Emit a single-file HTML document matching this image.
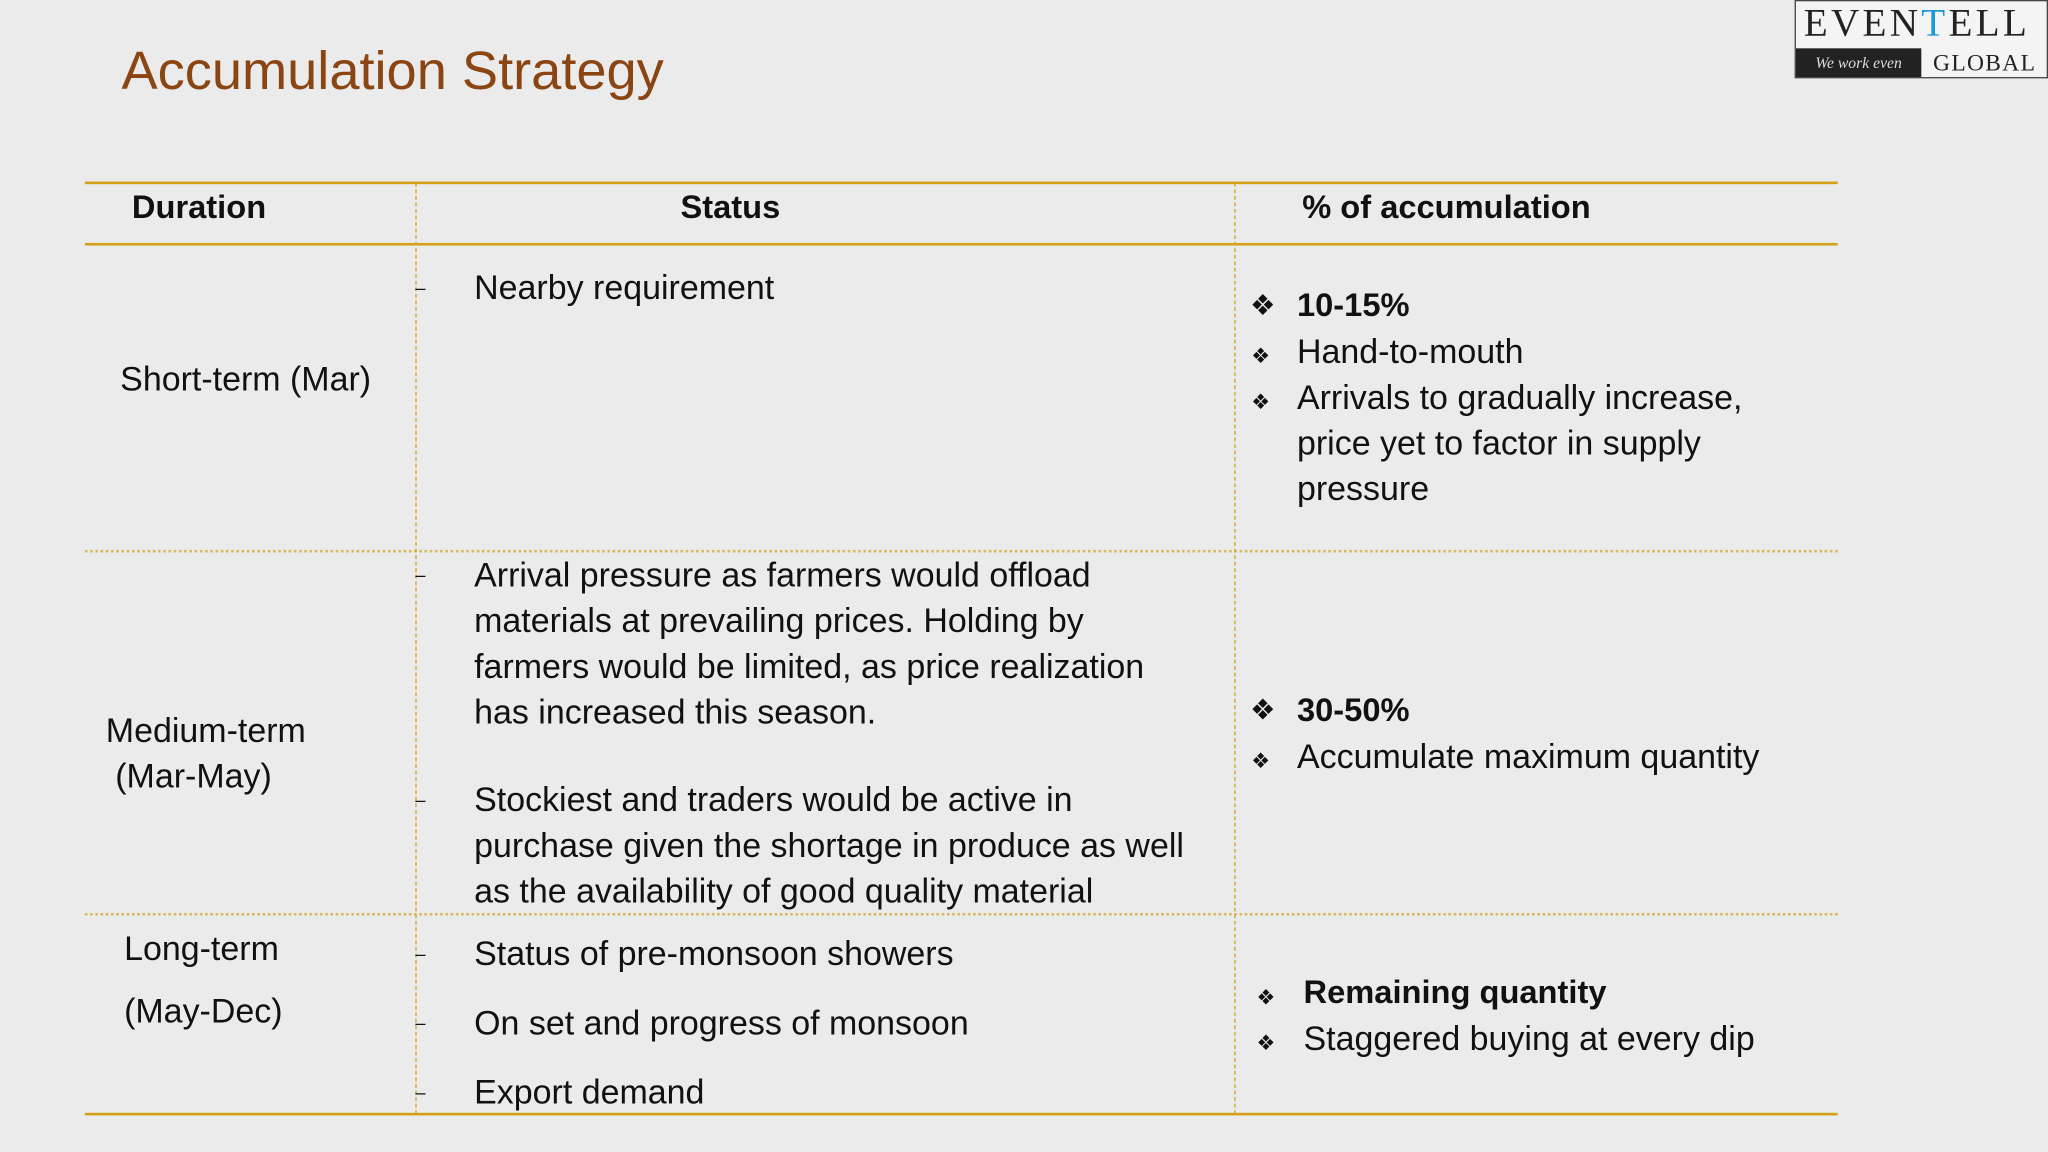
<!DOCTYPE html>
<html><head><meta charset="utf-8"><style>
html,body{margin:0;padding:0;background:#ebebeb;}
#page{width:1568px;height:882px;position:relative;transform:scale(1.30612);transform-origin:0 0;font-family:"Liberation Sans",sans-serif;color:#111;}
.t{position:absolute;white-space:nowrap;font-size:26px;line-height:35px;}
.b{font-weight:bold;font-size:25px;}
.hl{position:absolute;left:65px;width:1342px;height:0;border-top:2px solid #d4a017;}
.dl{position:absolute;left:65px;width:1342px;height:0;border-top:2px dotted #d9b860;}
.vl{position:absolute;top:140px;height:713px;width:0;border-left:1.5px dashed #d4a017;}
.dash{position:absolute;font-size:14px;}
.dia{position:absolute;font-size:22px;line-height:24px;}
.sm{font-size:16px;}
</style></head><body>
<div id="page">
<div class="t" style="left:93px;top:30px;font-size:41.5px;line-height:48px;color:#8b4513;">Accumulation Strategy</div>
<div style="position:absolute;left:1374px;top:0;width:192px;height:58px;background:#f4f4f4;border:1px solid #444;">
 <div style="position:absolute;left:6px;top:0;font-family:'Liberation Serif',serif;font-size:30px;letter-spacing:2.5px;color:#222;">EVEN<span style="color:#1e9ad6">T</span>ELL</div>
 <div style="position:absolute;left:0;top:36px;width:96px;height:22px;background:#222;color:#ddd;font-family:'Liberation Serif',serif;font-style:italic;font-size:12px;line-height:22px;text-align:center;">We work even</div>
 <div style="position:absolute;left:105px;top:36px;font-family:'Liberation Serif',serif;font-size:18px;line-height:22px;color:#222;letter-spacing:1px;">GLOBAL</div>
</div>
<div class="hl" style="top:139px"></div>
<div class="hl" style="top:186px"></div>
<div class="dl" style="top:421px"></div>
<div class="dl" style="top:699px"></div>
<div class="hl" style="top:852px"></div>
<div class="vl" style="left:318px"></div>
<div class="vl" style="left:945px"></div>
<div class="t b" style="left:101px;top:142px">Duration</div>
<div class="t b" style="left:521px;top:142px">Status</div>
<div class="t b" style="left:997px;top:142px">% of accumulation</div>
<div class="t" style="left:92px;top:273px">Short-term (Mar)</div>
<div class="t" style="left:81px;top:542px">Medium-term<br>&nbsp;(Mar-May)</div>
<div class="t" style="left:95px;top:702px;line-height:48px">Long-term<br>(May-Dec)</div>
<div class="dash" style="left:318px;top:212px">–</div>
<div class="t" style="left:363px;top:203px">Nearby requirement</div>
<div class="dash" style="left:318px;top:432px">–</div>
<div class="t" style="left:363px;top:423px">Arrival pressure as farmers would offload<br>materials at prevailing prices. Holding by<br>farmers would be limited, as price realization<br>has increased this season.</div>
<div class="dash" style="left:318px;top:604px">–</div>
<div class="t" style="left:363px;top:595px">Stockiest and traders would be active in<br>purchase given the shortage in produce as well<br>as the availability of good quality material</div>
<div class="dash" style="left:318px;top:722px">–</div>
<div class="t" style="left:363px;top:713px">Status of pre-monsoon showers</div>
<div class="dash" style="left:318px;top:775px">–</div>
<div class="t" style="left:363px;top:766px">On set and progress of monsoon</div>
<div class="dash" style="left:318px;top:828px">–</div>
<div class="t" style="left:363px;top:819px">Export demand</div>
<div class="dia" style="left:957px;top:222px">❖</div>
<div class="t b" style="left:993px;top:217px">10-15%</div>
<div class="dia sm" style="left:958px;top:262px">❖</div>
<div class="t" style="left:993px;top:252px">Hand-to-mouth</div>
<div class="dia sm" style="left:958px;top:297px">❖</div>
<div class="t" style="left:993px;top:287px">Arrivals to gradually increase,<br>price yet to factor in supply<br>pressure</div>
<div class="dia" style="left:957px;top:532px">❖</div>
<div class="t b" style="left:993px;top:527px">30-50%</div>
<div class="dia sm" style="left:958px;top:572px">❖</div>
<div class="t" style="left:993px;top:562px">Accumulate maximum quantity</div>
<div class="dia sm" style="left:962px;top:753px">❖</div>
<div class="t b" style="left:998px;top:743px">Remaining quantity</div>
<div class="dia sm" style="left:962px;top:788px">❖</div>
<div class="t" style="left:998px;top:778px">Staggered buying at every dip</div>
</div>
</body></html>
